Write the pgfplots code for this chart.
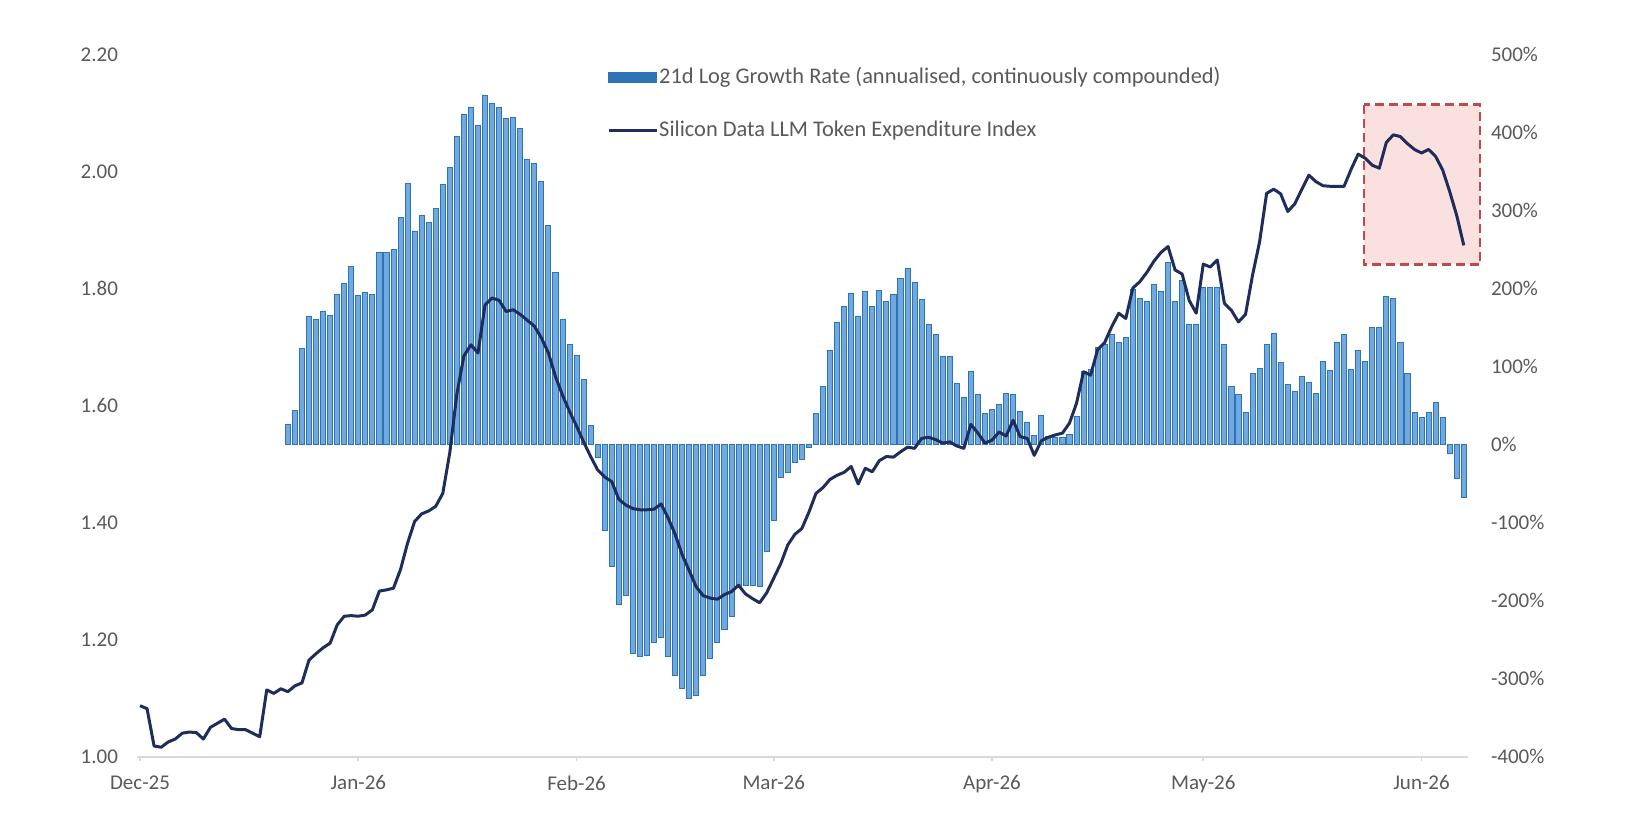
\documentclass[border=0pt]{standalone}
\usepackage{fontspec}
\setmainfont{Carlito}
\usepackage{pgfplots}
\pgfplotsset{compat=1.18}
\usepackage{pgfplotstable}

\definecolor{barfill}{HTML}{6FA9DF}
\definecolor{baredge}{HTML}{2E74B5}
\definecolor{linenavy}{HTML}{1F2D5C}
\definecolor{txtgray}{HTML}{595959}
\definecolor{axisgray}{HTML}{D9D9D9}
\definecolor{boxred}{HTML}{BE4A4C}
\definecolor{boxfill}{HTML}{FBE0E0}

% 21-day log growth rate, annualised (%), by day counted from 1 Dec 2025
\pgfplotstableread{
day growth
21 26
22 44
23 123
24 164
25 161
26 171
27 166
28 192
29 207
30 229
31 191
32 195
33 192
34 247
35 247
36 250
37 291
38 335
39 274
40 294
41 285
42 303
43 333
44 355
45 395
46 424
47 433
48 409
49 448
50 437
51 432
52 418
53 420
54 406
55 366
56 360
57 338
58 281
59 221
60 161
61 128
62 114
63 83
64 25
65 -16
66 -110
67 -156
68 -205
69 -194
70 -268
71 -271
72 -270
73 -254
74 -247
75 -271
76 -296
77 -313
78 -326
79 -321
80 -296
81 -274
82 -254
83 -237
84 -220
85 -183
86 -181
87 -181
88 -182
89 -137
90 -97
91 -42
92 -36
93 -23
94 -19
95 -3
96 40
97 75
98 121
99 157
100 177
101 194
102 165
103 196
104 177
105 198
106 183
107 192
108 213
109 226
110 208
111 186
112 154
113 141
114 113
115 113
116 78
117 60
118 94
119 64
120 40
121 45
122 51
123 66
124 65
125 43
126 29
127 12
128 37
129 11
130 9
131 9
132 13
133 36
134 94
135 96
136 124
137 129
138 141
139 131
140 137
141 199
142 187
143 184
144 205
145 197
146 233
147 184
148 211
149 154
150 154
151 201
152 201
153 201
154 128
155 74
156 64
157 41
158 91
159 98
160 129
161 143
162 105
163 77
164 68
165 88
166 80
167 66
168 107
169 95
170 131
171 141
172 96
173 121
174 107
175 150
176 150
177 190
178 188
179 131
180 91
181 41
182 35
183 41
184 54
185 35
186 -11
187 -43
188 -68
}\growthtable

% Silicon Data LLM Token Expenditure Index, daily
\pgfplotstableread{
day index
0 1.087
1 1.082
2 1.018
3 1.016
4 1.025
5 1.030
6 1.040
7 1.042
8 1.041
9 1.030
10 1.050
11 1.057
12 1.064
13 1.048
14 1.046
15 1.046
16 1.040
17 1.034
18 1.114
19 1.108
20 1.116
21 1.111
22 1.121
23 1.126
24 1.165
25 1.176
26 1.186
27 1.194
28 1.225
29 1.240
30 1.241
31 1.240
32 1.242
33 1.251
34 1.283
35 1.285
36 1.288
37 1.320
38 1.365
39 1.402
40 1.415
41 1.420
42 1.428
43 1.450
44 1.520
45 1.620
46 1.685
47 1.704
48 1.690
49 1.772
50 1.784
51 1.780
52 1.761
53 1.764
54 1.756
55 1.746
56 1.736
57 1.716
58 1.690
59 1.650
60 1.618
61 1.590
62 1.565
63 1.538
64 1.513
65 1.490
66 1.478
67 1.470
68 1.440
69 1.430
70 1.424
71 1.422
72 1.422
73 1.423
74 1.432
75 1.408
76 1.380
77 1.345
78 1.318
79 1.290
80 1.275
81 1.271
82 1.269
83 1.277
84 1.282
85 1.293
86 1.278
87 1.270
88 1.263
89 1.280
90 1.305
91 1.330
92 1.362
93 1.380
94 1.390
95 1.418
96 1.450
97 1.460
98 1.474
99 1.481
100 1.486
101 1.496
102 1.466
103 1.493
104 1.487
105 1.506
106 1.513
107 1.512
108 1.521
109 1.529
110 1.527
111 1.544
112 1.546
113 1.542
114 1.536
115 1.538
116 1.531
117 1.527
118 1.568
119 1.553
120 1.536
121 1.541
122 1.555
123 1.548
124 1.575
125 1.547
126 1.544
127 1.515
128 1.540
129 1.546
130 1.550
131 1.553
132 1.570
133 1.604
134 1.658
135 1.652
136 1.696
137 1.708
138 1.735
139 1.758
140 1.749
141 1.801
142 1.812
143 1.828
144 1.847
145 1.862
146 1.872
147 1.832
148 1.825
149 1.780
150 1.758
151 1.842
152 1.837
153 1.849
154 1.775
155 1.763
156 1.743
157 1.756
158 1.823
159 1.880
160 1.963
161 1.970
162 1.962
163 1.932
164 1.945
165 1.970
166 1.994
167 1.983
168 1.976
169 1.975
170 1.975
171 1.975
172 2.004
173 2.030
174 2.023
175 2.011
176 2.006
177 2.050
178 2.063
179 2.060
180 2.048
181 2.038
182 2.032
183 2.038
184 2.026
185 2.003
186 1.966
187 1.925
188 1.874
}\indextable

\pgfplotsset{
  frame/.style={
    at={(68.35pt,31.7pt)}, anchor=south west,
    scale only axis, width=665.65pt, height=350.95pt,
    xmin=-0.47, xmax=188.6,
    tick label style={font=\fontsize{10.5}{12}\selectfont, text=txtgray},
    /pgf/number format/assume math mode=true,
  },
}

\begin{document}
\begin{tikzpicture}
\path[use as bounding box] (0,0) rectangle (825pt,410pt);

% right axis: growth-rate bars, date axis, highlight box
\begin{axis}[frame,
  ymin=-400, ymax=500,
  ytick={-400,-300,-200,-100,0,100,200,300,400,500},
  yticklabel={\pgfmathprintnumber{\tick}\%},
  axis y line*=right, axis x line*=bottom,
  y axis line style={draw=none},
  x axis line style={draw=axisgray, line width=1pt},
  ytick style={draw=none},
  xtick={0,31,62,90,121,151,182},
  xticklabels={Dec-25,Jan-26,Feb-26,Mar-26,Apr-26,May-26,Jun-26},
  xtick style={draw=axisgray, line width=0.8pt},
  tick align=outside, major tick length=2pt,
  yticklabel style={inner sep=0pt, anchor=west, xshift=9.3pt},
  xticklabel style={inner sep=0pt, anchor=north, yshift=-7.3pt},
  clip=false,
]
\fill[boxfill] (axis cs:173.8,436) rectangle (axis cs:190.3,231);
\draw[boxred, line width=1.3pt, dash pattern=on 4.5pt off 2.5pt]
  (axis cs:173.8,436) rectangle (axis cs:190.3,231);
\addplot[ybar, bar width=0.72, fill=barfill, draw=baredge, line width=0.45pt]
  table[x=day, y=growth] {\growthtable};
\end{axis}

% left axis: index level line and legend
\begin{axis}[frame,
  ymin=1, ymax=2.2,
  ytick={1.0,1.2,1.4,1.6,1.8,2.0,2.2},
  axis y line*=left, axis x line=none,
  y axis line style={draw=none},
  ytick style={draw=none}, major tick length=0pt,
  yticklabel style={inner sep=0pt, anchor=east, xshift=-9.2pt,
    /pgf/number format/.cd, fixed, fixed zerofill, precision=2},
  legend style={at={(0.353,0.984)}, anchor=north west,
    draw=none, fill=none, inner sep=0pt,
    font=\fontsize{11.2}{13}\selectfont, text=txtgray,
    row sep=15.3pt,
    nodes={inner sep=0.6pt, text height=7.8pt, text depth=2.3pt},
    /tikz/every even column/.append style={column sep=1.5pt}},
  legend cell align=left,
]
\addlegendimage{legend image code/.code={
  \fill[baredge] (0pt,-2.4pt) rectangle (24pt,2.4pt);}}
\addlegendentry{21d Log Growth Rate (annualised, continuously compounded)}
\addplot[linenavy, line width=1.5pt, line join=round,
  legend image code/.code={\draw[linenavy, line width=1.5pt] (0pt,0pt) -- (24pt,0pt);}]
  table[x=day, y=index] {\indextable};
\addlegendentry{Silicon Data LLM Token Expenditure Index}
\end{axis}
\end{tikzpicture}
\end{document}
